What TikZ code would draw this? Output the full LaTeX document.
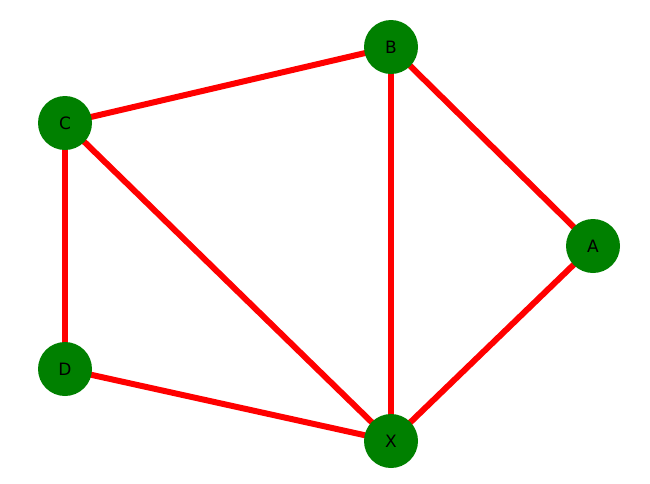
\documentclass[tikz,border=0pt]{standalone}
\usepackage{fontspec}
\setmainfont{DejaVu Sans}
\usetikzlibrary{backgrounds}
\definecolor{ngreen}{RGB}{0,128,0}
\tikzset{vert/.style={circle,fill=ngreen,minimum size=54pt,inner sep=0pt,font=\fontsize{17}{17}\selectfont},
edge/.style={red,line width=6pt}}
\begin{document}
\begin{tikzpicture}[x=1pt,y=-1pt]
\useasboundingbox (0,0) rectangle (650,483);
\node[vert] (B) at (391,47) {B};
\node[vert] (C) at (65,123) {C};
\node[vert] (A) at (593,246) {A};
\node[vert] (D) at (65,369) {D};
\node[vert] (X) at (391,441) {X};
\begin{scope}[on background layer]
\draw[edge] (C.center) -- (B.center);
\draw[edge] (B.center) -- (A.center);
\draw[edge] (B.center) -- (X.center);
\draw[edge] (C.center) -- (X.center);
\draw[edge] (C.center) -- (D.center);
\draw[edge] (D.center) -- (X.center);
\draw[edge] (A.center) -- (X.center);
\end{scope}
\end{tikzpicture}
\end{document}
